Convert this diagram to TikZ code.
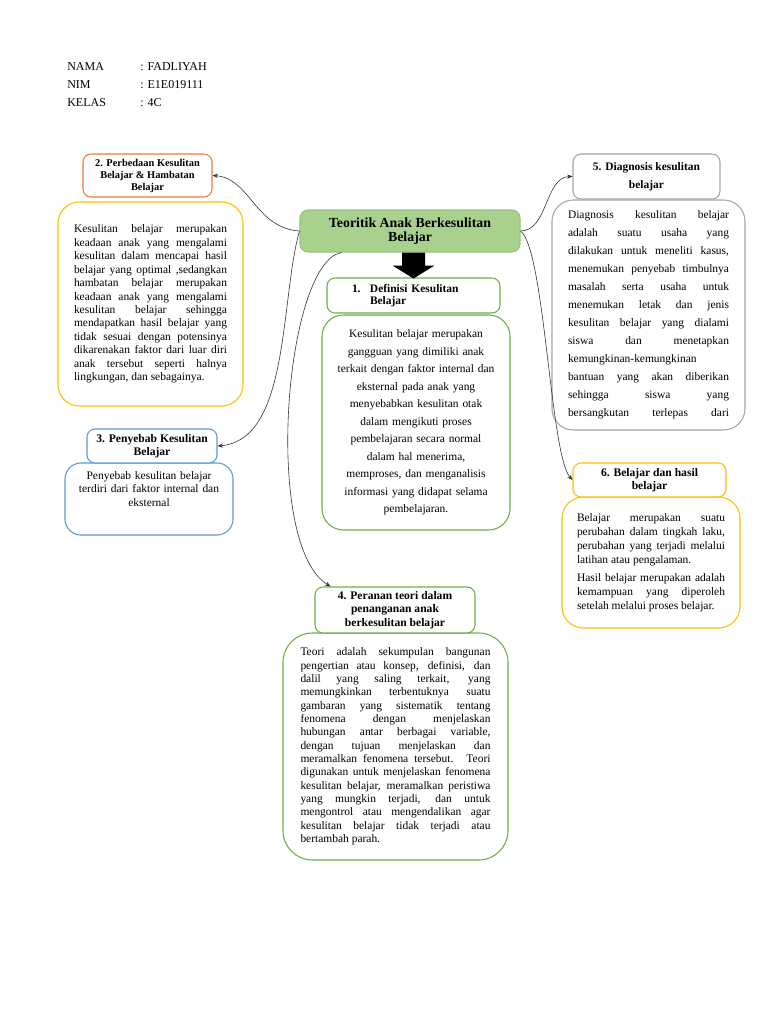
\documentclass[tikz,border=0pt]{standalone}
\usepackage{fontspec}
\setmainfont{Liberation Serif}
\usetikzlibrary{calc}
\usetikzlibrary{arrows.meta}
\definecolor{custom-orange}{RGB}{237, 125, 49}
\definecolor{custom-yellow}{RGB}{255, 192, 0}
\definecolor{custom-green}{RGB}{112, 173, 71}
\definecolor{custom-lightgreen}{RGB}{169, 209, 142}
\definecolor{custom-midgreen}{RGB}{150, 196, 120}
\definecolor{custom-grey}{RGB}{165, 165, 165}
\definecolor{custom-blue}{RGB}{91, 155, 213}
\tikzset{
  id-text/.style={anchor=base west, inner sep=0pt, font=\fontsize{9}{11}\selectfont},
  title-box/.style={draw, rounded corners=6pt, line width=0.8pt, align=center, inner sep=2pt,
    font=\bfseries\fontsize{8.7}{9.8}\selectfont},
  body-box/.style={draw, rounded corners=16pt, line width=0.8pt, inner sep=2pt,
    execute at begin node={\tolerance=10000\hyphenpenalty=10000\parindent=0pt\relax}},
  link/.style={draw=black!80, line width=0.45pt, -{Stealth[length=4pt,width=3.2pt]}},
}
\begin{document}
\begin{tikzpicture}[x=0.75pt, y=-0.75pt]
\fill[white] (0,0) rectangle (768,1024);
\node[id-text] (nama-label) at (67,70) {NAMA};
\node[id-text] (nama-isi) at (140,70) {: FADLIYAH};
\node[id-text] (nim-label) at (67,89) {NIM};
\node[id-text] (nim-isi) at (140,89) {: E1E019111};
\node[id-text] (kelas-label) at (67,107) {KELAS};
\node[id-text] (kelas-isi) at (140,107) {: 4C};
% isi kotak
\node[body-box, draw=custom-yellow, minimum width=138.75pt, minimum height=153pt, text width=114.75pt,
  align=justify, font=\fontsize{8.6}{10.1}\selectfont] (b2) at (150.5,304)
  {Kesulitan belajar merupakan\linebreak keadaan anak yang mengalami\linebreak kesulitan dalam mencapai hasil\linebreak
   belajar yang optimal ,sedangkan\linebreak hambatan belajar merupakan\linebreak keadaan anak yang mengalami\linebreak
   kesulitan belajar sehingga\linebreak mendapatkan hasil belajar yang\linebreak tidak sesuai dengan potensinya\linebreak
   dikarenakan faktor dari luar diri\linebreak anak tersebut seperti halnya\linebreak lingkungan, dan sebagainya.};
\node[body-box, draw=custom-green, minimum width=141pt, minimum height=161.25pt, text width=125pt,
  align=center, font=\fontsize{8.6}{13.1}\selectfont] (b1) at (416,422.5)
  {Kesulitan belajar merupakan\\gangguan yang dimiliki anak\\terkait dengan faktor internal dan\\eksternal pada anak yang\\
   menyebabkan kesulitan otak\\dalam mengikuti proses\\pembelajaran secara normal\\dalam hal menerima,\\
   memproses, dan menganalisis\\informasi yang didapat selama\\pembelajaran.};
\node[body-box, draw=custom-grey, minimum width=144.75pt, minimum height=172.5pt, text width=120.75pt,
  align=justify, font=\fontsize{8.6}{13.5}\selectfont] (b5) at (648.5,315)
  {Diagnosis kesulitan belajar\linebreak adalah suatu usaha yang\linebreak dilakukan untuk meneliti kasus,\linebreak
   menemukan penyebab timbulnya\linebreak masalah serta usaha untuk\linebreak menemukan letak dan jenis\linebreak
   kesulitan belajar yang dialami\linebreak siswa dan menetapkan\linebreak kemungkinan-kemungkinan\hspace*{\fill}\linebreak
   bantuan yang akan diberikan\linebreak sehingga siswa yang\linebreak bersangkutan terlepas dari\parfillskip=0pt\par};
\node[body-box, draw=custom-blue, rounded corners=12pt, minimum width=126pt, minimum height=54pt, text width=118pt,
  align=center, font=\fontsize{8.6}{10.1}\selectfont] (b3) at (149,499)
  {Penyebab kesulitan belajar\\terdiri dari faktor internal dan\\eksternal\\[5pt]\mbox{}};
\node[body-box, draw=custom-yellow, minimum width=133.5pt, minimum height=98.25pt, text width=111pt,
  align=justify, font=\fontsize{8.6}{10.5}\selectfont] (b6) at (651,562.5)
  {Belajar merupakan suatu\linebreak perubahan dalam tingkah laku,\linebreak perubahan yang terjadi melalui\linebreak
   latihan atau pengalaman.\par\vspace{3pt}
   Hasil belajar merupakan adalah\linebreak kemampuan yang diperoleh\linebreak setelah melalui proses belajar.};
\node[body-box, draw=custom-green, rounded corners=22pt, minimum width=168.75pt, minimum height=170.25pt, text width=142.5pt,
  align=justify, font=\fontsize{8.6}{10}\selectfont] (b4) at (395.5,746.5)
  {Teori adalah sekumpulan bangunan\linebreak pengertian atau konsep, definisi, dan\linebreak dalil yang saling terkait, yang\linebreak
   memungkinkan terbentuknya suatu\linebreak gambaran yang sistematik tentang\linebreak fenomena dengan menjelaskan\linebreak
   hubungan antar berbagai variable,\linebreak dengan tujuan menjelaskan dan\linebreak meramalkan fenomena tersebut. Teori\linebreak
   digunakan untuk menjelaskan fenomena\linebreak kesulitan belajar, meramalkan peristiwa\linebreak yang mungkin terjadi, dan untuk\linebreak
   mengontrol atau mengendalikan agar\linebreak kesulitan belajar tidak terjadi atau\linebreak bertambah parah.};
% judul kotak
\node[title-box, fill=custom-lightgreen, draw=custom-midgreen, minimum width=165pt, minimum height=31.5pt,
  font=\bfseries\fontsize{10.4}{10.5}\selectfont] (teori) at (410,231) {Teoritik Anak Berkesulitan\\Belajar};
\node[title-box, fill=white, draw=custom-green, minimum width=129.75pt, minimum height=26.25pt, align=left,
  text width=92.25pt, font=\bfseries\fontsize{8.6}{9.2}\selectfont] (t1) at (413.5,295.5)
  {\makebox[13.5pt][l]{1.}Definisi Kesulitan\\\hspace*{13.5pt}Belajar};
\node[title-box, fill=white, draw=custom-orange, minimum width=96.75pt, minimum height=32.25pt,
  font=\bfseries\fontsize{7.8}{9}\selectfont] (t2) at (147.5,175.5) {2. Perbedaan Kesulitan\\Belajar \& Hambatan\\Belajar};
\node[title-box, fill=white, draw=custom-blue, minimum width=97.5pt, minimum height=25.5pt] (t3) at (152,446)
  {3. Penyebab Kesulitan\\Belajar};
\node[title-box, fill=white, draw=custom-green, minimum width=120pt, minimum height=34.5pt,
  font=\bfseries\fontsize{8.7}{10.1}\selectfont] (t4) at (395,610) {4. Peranan teori dalam\\penanganan anak\\berkesulitan belajar};
\node[title-box, fill=white, draw=custom-grey, minimum width=110.25pt, minimum height=33.75pt,
  font=\bfseries\fontsize{8.6}{13.5}\selectfont] (t5) at (646.5,176.5) {5. Diagnosis kesulitan\\belajar};
\node[title-box, fill=white, draw=custom-yellow, minimum width=114.75pt, minimum height=25.5pt] (t6) at (649.5,480)
  {6. Belajar dan hasil\\belajar};
% panah
\fill[black] (teori.south -| t1.north) +(-11.5,0) -- +(11.5,0) -- +(11.5,13) -- +(21,13) -- +(0,26)
  -- +(-21,13) -- +(-11.5,13) -- cycle;
\draw[link] (teori.west) .. controls (255,228) and (250,178) .. (t2.east);
\draw[link] (teori.west) .. controls (280,300) and (290,440) .. (t3.east);
\draw[link] ($(teori.south west)!0.19!(teori.south east)$) .. controls (285,262) and (262,545)
  .. ($(t4.north west)!0.1!(t4.north east)$);
\draw[link] (teori.east) .. controls (548,231) and (545,177) .. (t5.west);
\draw[link] (teori.east) .. controls (545,250) and (550,455) .. (t6.west);
\end{tikzpicture}
\end{document}
